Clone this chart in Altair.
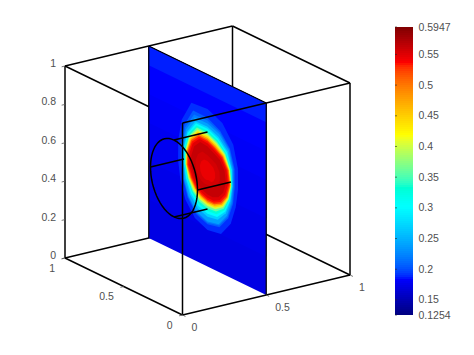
import numpy as np
import altair as alt

# ---- 3D view: screen px per data unit along each axis
AX_X = (167.5, 40.0)
AX_Y = (-117.5, 57.0)
AX_Z = (0.0, 192.0)
ORIGIN = (174.5, 307.0)

def proj(x, y, z):
    return [AX_X[0]*x + AX_Y[0]*y + AX_Z[0]*z, AX_X[1]*x + AX_Y[1]*y + AX_Z[1]*z]

# ---- colour scale
VMIN, VMAX = 0.1254, 0.5947
JET_T = [0, .125, .375, .625, .875, 1]
JET_C = ["#000080", "#0000ff", "#00ffff", "#ffff00", "#ff0000", "#800000"]
jet = alt.Scale(domain=[VMIN + t*(VMAX-VMIN) for t in JET_T], range=JET_C, clamp=True)

# ---- slice at x = 0.5: background bands (lower z bound of each band up to the top, value)
SLICE_X = 0.5
BAND_Z = [0, .2, .4, .6, .75, .9]
BAND_V = [.172, .175, .178, .181, .184, .187]

# ---- contours on the slice, read as radius per direction around the blob centre
CY, CZ = 0.5, 0.48
ANGLES = [22.5*i for i in range(16)]
LEVELS = [.19, .205, .22, .24, .27, .30, .33, .36, .40, .44, .48, .52, .535, .55, .562, .555, .545]
RADII = [
 [.25,.27,.31,.36,.34,.33,.31,.28,.26,.26,.28,.30,.29,.28,.265,.25],
 [.225,.245,.28,.32,.295,.28,.27,.25,.232,.235,.25,.265,.26,.255,.24,.225],
 [.217,.236,.267,.30,.28,.27,.262,.242,.224,.228,.242,.257,.252,.247,.233,.22],
 [.21,.228,.256,.285,.265,.26,.255,.235,.217,.22,.235,.25,.245,.24,.228,.215],
 [.203,.219,.244,.267,.248,.242,.241,.226,.212,.212,.221,.228,.221,.218,.21,.203],
 [.198,.214,.236,.256,.237,.231,.232,.221,.209,.207,.212,.214,.205,.203,.199,.195],
 [.194,.209,.229,.245,.227,.22,.223,.216,.206,.202,.204,.2,.191,.19,.188,.188],
 [.189,.203,.221,.235,.217,.21,.215,.21,.203,.197,.195,.187,.176,.176,.178,.181],
 [.186,.199,.215,.225,.207,.2,.207,.206,.2,.193,.187,.175,.165,.164,.168,.174],
 [.182,.194,.208,.216,.199,.191,.2,.201,.198,.189,.18,.166,.155,.155,.159,.168],
 [.178,.19,.202,.207,.189,.182,.192,.197,.195,.184,.173,.158,.148,.146,.151,.162],
 [.174,.185,.195,.197,.18,.172,.184,.192,.192,.18,.165,.15,.14,.138,.145,.155],
 [.166,.177,.187,.189,.172,.164,.176,.184,.184,.172,.157,.142,.132,.13,.137,.147],
 [.156,.167,.177,.179,.162,.154,.166,.174,.174,.162,.147,.132,.122,.12,.127,.137],
 [.139,.15,.16,.162,.145,.137,.149,.157,.157,.145,.13,.115,.105,.103,.11,.12],
 [.10,.11,.115,.115,.10,.095,.105,.11,.105,.09,.075,.06,.055,.06,.07,.085],
 [.06,.07,.075,.075,.07,.065,.07,.07,.065,.055,.045,.03,.03,.035,.04,.05],
]

# ---- cylinder
CYL_X0, CYL_X1 = 0.3, 0.5
CYL_Y, CYL_Z, CYL_R = 0.5, 0.5, 0.2

# ---- ticks
Z_TICKS = [0, .2, .4, .6, .8, 1]
Z_LABELS = ["0", "0.2", "0.4", "0.6", "0.8", "1"]
XY_TICKS = [0, .5, 1]
XY_LABELS = ["0", "0.5", "1"]
CB_TICKS = [.1254, .15, .2, .25, .3, .35, .4, .45, .5, .55, .5947]

# ---- geometry helpers
def poly(pts3, level):
    ring = [proj(*p) for p in pts3]
    ring.append(ring[0])
    return {"type": "Feature", "properties": {"level": level},
            "geometry": {"type": "Polygon", "coordinates": [ring]}}

def line(pts3):
    return {"type": "Feature", "properties": {},
            "geometry": {"type": "LineString", "coordinates": [proj(*p) for p in pts3]}}

def geo(features):
    return alt.InlineData(values={"type": "FeatureCollection", "features": features},
                          format=alt.DataFormat(property="features", type="json"))

projection = dict(type="identity", reflectY=True, scale=1, translate=list(ORIGIN))

slice_feats = [poly([(SLICE_X, 0, a), (SLICE_X, 1, a), (SLICE_X, 1, 1), (SLICE_X, 0, 1)], v)
               for a, v in zip(BAND_Z, BAND_V)]
for lev, rad in zip(LEVELS, RADII):
    pts = [(SLICE_X, CY + r*np.cos(np.radians(t)), CZ + r*np.sin(np.radians(t)))
           for r, t in zip(rad, ANGLES)]
    slice_feats.append(poly(pts, lev))

back_lines = [
    [(1, 1, 0), (1, 1, 1)], [(0, 1, 0), (1, 1, 0)], [(1, 1, 0), (1, 0, 0)],
    [(0, 1, 1), (1, 1, 1)], [(1, 1, 1), (1, 0, 1)], [(1, 0, 0), (1, 0, 1)],
    [(0, 1, 0), (0, 1, 1)], [(0, 1, 1), (0, 0, 1)],
]
front_lines = [
    [(0, 0, 0), (0, 0, 1)], [(0, 0, 1), (1, 0, 1)],
    [(0, 1, 0), (0, 0, 0)], [(0, 0, 0), (1, 0, 0)],
]
slice_edge = [[(SLICE_X, 0, 0), (SLICE_X, 0, 1)], [(SLICE_X, 1, 0), (SLICE_X, 1, 1)],
              [(SLICE_X, 0, 1), (SLICE_X, 1, 1)]]
th = np.radians(np.arange(0, 361, 6))
circle = [(CYL_X0, CYL_Y + CYL_R*np.cos(t), CYL_Z + CYL_R*np.sin(t)) for t in th]
cyl_lines = [circle] + [
    [(CYL_X0, CYL_Y + dy*CYL_R, CYL_Z + dz*CYL_R), (CYL_X1, CYL_Y + dy*CYL_R, CYL_Z + dz*CYL_R)]
    for dy, dz in [(1, 0), (-1, 0), (0, 1), (0, -1)]
]
tick_lines = ([[(0, 1, z), (-.02, 1, z)] for z in Z_TICKS]
              + [[(0, y, 0), (-.02, y, 0)] for y in XY_TICKS]
              + [[(x, 0, 0), (x, -.025, 0)] for x in XY_TICKS])

def lines_layer(lines, color="#000000", width=1.5):
    return alt.Chart(geo([line(l) for l in lines])).mark_geoshape(
        filled=False, stroke=color, strokeWidth=width).project(**projection)

FONT = dict(font="Liberation Sans", fontSize=10.5, color="#505050")

def text_layer(pts3, labels, align, dx, dy):
    rows = [{"lon": proj(*p)[0], "lat": proj(*p)[1], "t": s} for p, s in zip(pts3, labels)]
    return alt.Chart(alt.Data(values=rows)).mark_text(
        align=align, baseline="middle", dx=dx, dy=dy, **FONT
    ).encode(longitude="lon:Q", latitude="lat:Q", text="t:N").project(**projection)

slice_layer = alt.Chart(geo(slice_feats)).mark_geoshape(strokeWidth=0).encode(
    color=alt.Color("properties.level:Q", scale=jet, legend=None)
).project(**projection)

# ---- colour bar
CB_X0, CB_X1 = 387, 405
CB_TOP, CB_BOTTOM = 19, 307
cb_scale = alt.Scale(domain=[VMIN, VMAX], range=[CB_BOTTOM, CB_TOP], nice=False, zero=False)
cb_edges = np.linspace(VMIN, VMAX, 145)
cb_rows = [{"a": float(a), "b": float(b), "v": float((a+b)/2)} for a, b in zip(cb_edges[:-1], cb_edges[1:])]
y_cb = alt.Y("a:Q", scale=cb_scale,
             axis=alt.Axis(orient="right", values=CB_TICKS, format=".4~f", title=None, grid=False,
                           domain=False, ticks=False, labelPadding=5, labelOverlap=False,
                           labelBound=False, labelFlush=False, labelFont="Liberation Sans",
                           labelFontSize=10.5, labelColor="#505050"))
cbar = alt.Chart(alt.Data(values=cb_rows)).mark_rect(strokeWidth=0).encode(
    x=alt.value(CB_X0), x2=alt.value(CB_X1), y=y_cb, y2="b:Q",
    color=alt.Color("v:Q", scale=jet, legend=None))
cb_ticks = alt.Chart(alt.Data(values=[{"a": v} for v in CB_TICKS])).mark_rule(
    color="#262626", strokeWidth=.6).encode(
    x=alt.value(CB_X0), x2=alt.value(CB_X0 + 2), y=y_cb)

chart = alt.layer(
    lines_layer(back_lines),
    slice_layer,
    lines_layer(slice_edge, width=1.2),
    lines_layer(front_lines),
    lines_layer(cyl_lines),
    lines_layer(tick_lines, color="#555555", width=.8),
    text_layer([(0, 1, z) for z in Z_TICKS], Z_LABELS, "right", -9, -2),
    text_layer([(0, y, 0) for y in XY_TICKS], XY_LABELS, "right", -10, 10.5),
    text_layer([(x, 0, 0) for x in XY_TICKS], XY_LABELS, "left", 9, 12.7),
    cbar,
    cb_ticks,
).resolve_scale(color="shared").properties(width=405, height=335, padding=0).configure_view(strokeWidth=0)

chart.save("out.html", embed_options={"renderer": "svg", "actions": False})
